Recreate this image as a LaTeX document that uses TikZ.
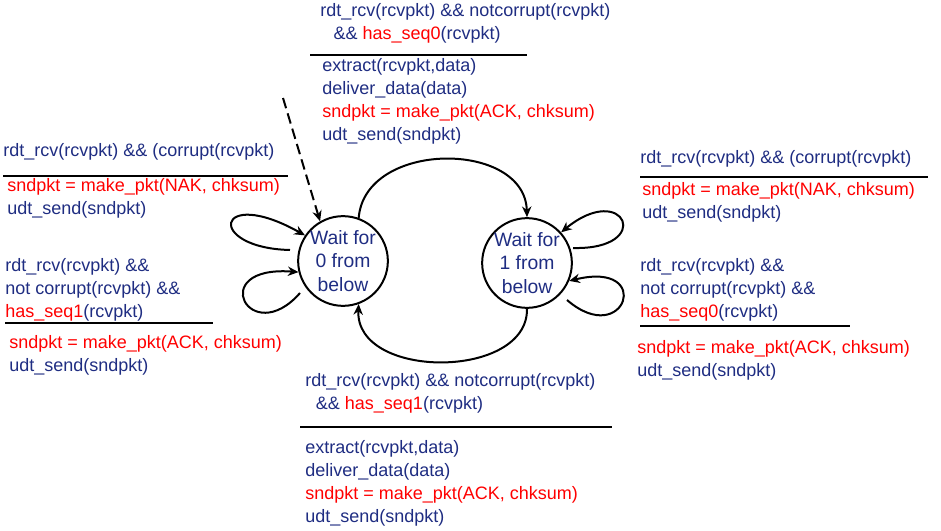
\documentclass[tikz,border=0pt]{standalone}
\usepackage{fontspec}
\setmainfont{Liberation Sans}
\usetikzlibrary{arrows.meta}
\definecolor{fsmblue}{RGB}{31,45,130}
\tikzstyle{state} = [draw,circle,line width=1.5pt,inner sep=0pt,minimum size=64pt,align=center,text=fsmblue,font=\fontsize{14.5}{17.5}\selectfont]
\tikzstyle{action} = [anchor=north west,align=left,inner sep=0pt,text=fsmblue,font=\fontsize{13.5}{17.2}\selectfont]
\tikzstyle{rule} = [line width=1.6pt]
\tikzstyle{trans} = [line width=1.5pt,-{Stealth[length=8pt,width=7pt]}]
\newcommand{\rd}[1]{\textcolor{red}{#1}}

\begin{document}
\begin{tikzpicture}[x=0.75pt,y=-0.75pt]
  \useasboundingbox (0,0) rectangle (941,531);
  %states
  \node[state] (s0) at (343,261) {Wait for\\0 from\\below};
  \node[state] (s1) at (527,263) {Wait for\\1 from\\below};
  \coordinate (init) at (283,98);

  %top: s0 -> s1
  \node[action] (topc) at (320,3) {rdt\_rcv(rcvpkt) \&\& notcorrupt(rcvpkt)\\\hspace*{10pt}\&\& \rd{has\_seq0}(rcvpkt)};
  \coordinate (topa) at (310,55);
  \coordinate (topb) at (527,55);
  \node[action] (topact) at (322,58) {extract(rcvpkt,data)\\deliver\_data(data)\\\rd{sndpkt = make\_pkt(ACK, chksum)}\\udt\_send(sndpkt)};

  %left loops
  \node[action] (ltc) at (3,143) {rdt\_rcv(rcvpkt) \&\& (corrupt(rcvpkt)};
  \coordinate (lta) at (3,176);
  \coordinate (ltb) at (288,176);
  \node[action] (ltact) at (7,178) {\rd{sndpkt = make\_pkt(NAK, chksum)}\\udt\_send(sndpkt)};
  \node[action] (lbc) at (5,258) {rdt\_rcv(rcvpkt) \&\&\\not corrupt(rcvpkt) \&\&\\\rd{has\_seq1}(rcvpkt)};
  \coordinate (lba) at (5,323);
  \coordinate (lbb) at (213,323);
  \node[action] (lbact) at (9,335) {\rd{sndpkt = make\_pkt(ACK, chksum)}\\udt\_send(sndpkt)};

  %right loops
  \node[action] (rtc) at (640,150) {rdt\_rcv(rcvpkt) \&\& (corrupt(rcvpkt)};
  \coordinate (rta) at (640,177);
  \coordinate (rtb) at (928,177);
  \node[action] (rtact) at (642,182) {\rd{sndpkt = make\_pkt(NAK, chksum)}\\udt\_send(sndpkt)};
  \node[action] (rbc) at (640,258) {rdt\_rcv(rcvpkt) \&\&\\not corrupt(rcvpkt) \&\&\\\rd{has\_seq0}(rcvpkt)};
  \coordinate (rba) at (640,326);
  \coordinate (rbb) at (850,326);
  \node[action] (rbact) at (637,340) {\rd{sndpkt = make\_pkt(ACK, chksum)}\\udt\_send(sndpkt)};

  %bottom: s1 -> s0
  \node[action] (botc) at (305,373) {rdt\_rcv(rcvpkt) \&\& notcorrupt(rcvpkt)\\\hspace*{8pt}\&\& \rd{has\_seq1}(rcvpkt)};
  \coordinate (bota) at (300,427);
  \coordinate (botb) at (612,427);
  \node[action] (botact) at (305,440) {extract(rcvpkt,data)\\deliver\_data(data)\\\rd{sndpkt = make\_pkt(ACK, chksum)}\\udt\_send(sndpkt)};

  %rules
  \draw[rule] (topa) -- (topb);
  \draw[rule] (lta) -- (ltb);
  \draw[rule] (lba) -- (lbb);
  \draw[rule] (rta) -- (rtb);
  \draw[rule] (rba) -- (rbb);
  \draw[rule] (bota) -- (botb);

  %loop ends
  \coordinate (l0a) at (290,250);
  \coordinate (l0b) at (300,293);
  \coordinate (l1a) at (573,248);
  \coordinate (l1b) at (567,300);

  %transitions
  \draw[trans,dashed,dash pattern=on 8pt off 4pt] (init) -- (s0.120);
  \draw[trans] (s0.70) .. controls (365,140) and (525,140) .. (s1.90);
  \draw[trans] (s1.270) .. controls (528,380) and (355,380) .. (s0.290);
  \draw[trans] (l0a) .. controls (205,248) and (215,185) .. (s0.146);
  \draw[trans] (l0b) .. controls (250,350) and (205,265) .. (s0.194);
  \draw[trans] (l1a) .. controls (655,250) and (625,180) .. (s1.42);
  \draw[trans] (l1b) .. controls (625,350) and (655,260) .. (s1.337);
\end{tikzpicture}
\end{document}
